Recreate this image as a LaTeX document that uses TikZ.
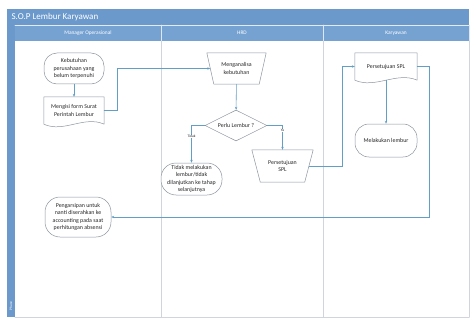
\documentclass[tikz,border=0pt]{standalone}
\usepackage{fontspec}
\setmainfont{Carlito}
\usetikzlibrary{arrows.meta,calc,positioning,shapes.geometric}
\definecolor{laneblue}{RGB}{108,153,204}
\definecolor{headblue}{RGB}{118,162,210}
\definecolor{laneline}{RGB}{208,212,220}
\definecolor{flowblue}{RGB}{98,158,198}
\definecolor{shapegray}{RGB}{140,148,158}
\tikzset{
  every node/.style={font=\fontsize{5.9}{7.2}\selectfont, text=black!85, align=center},
  box/.style={inner sep=1pt, minimum width=60pt, minimum height=27pt},
  terminal/.style={box, draw=shapegray, fill=white, line width=0.5pt,
    rounded corners=13pt},
  decision/.style={diamond, draw=shapegray, fill=white, line width=0.5pt,
    aspect=2, inner sep=0.5pt, minimum width=62pt, minimum height=31pt},
  outline/.style={draw=shapegray, line width=0.5pt, line join=round},
  flow/.style={draw=flowblue, line width=0.55pt, -{Stealth[length=3pt,width=2.4pt]}},
  tag/.style={font=\fontsize{3.6}{4}\selectfont, fill=white, inner sep=0.4pt},
  lane title/.style={font=\fontsize{5.4}{6}\selectfont, text=white}
}

\begin{document}
\begin{tikzpicture}[x=1pt, y=-1pt, line cap=round]
  \useasboundingbox (0,0) rectangle (474,321);

  % pool header and phase strip
  \fill[laneblue] (7,9) rectangle (469,25);
  \fill[headblue] (15,25) rectangle (469,41);
  \fill[laneblue] (7,25) rectangle (15,317);
  \draw[white!80!laneblue, line width=0.6pt] (15,25) -- (469,25);
  \node[anchor=west, font=\fontsize{9}{10}\selectfont, text=white] (title) at (8,17)
    {S.O.P Lembur Karyawan};
  \node[rotate=90, font=\fontsize{3.6}{4}\selectfont, text=white] (phase) at (11,306) {Phase};

  % lanes
  \foreach \xa/\xb/\name [count=\i] in {15/161/Manager Operasional,161/323/HRD,323/469/Karyawan} {
    \node[lane title] (lane\i) at ({(\xa+\xb)/2},33) {\name};
    \draw[white!75!headblue, line width=0.5pt] (\xb,25) -- (\xb,41);
    \draw[laneline, line width=1pt] (\xb,41) -- (\xb,317);
  }
  \draw[laneline, line width=1pt] (15,317) -- (469,317);

  % Manager Operasional
  \node[terminal, minimum height=31pt] (keb) at (74,68.5)
    {Kebutuhan\\perusahaan yang\\belum terpenuhi};
  \node[box] (form) at (74,110.5) {Mengisi form Surat\\Perintah Lembur};
  \draw[outline] (form.north west) -- (form.north east) -- (form.south east)
    .. controls ($(form.south east)!0.33!(form.south west)+(0,-9)$)
    and ($(form.south east)!0.67!(form.south west)+(0,9)$) .. (form.south west) -- cycle;
  \node[terminal, minimum width=66pt, minimum height=40pt, rounded corners=15pt] (arsip)
    at (78,217) {Pengarsipan untuk\\nanti diserahkan ke\\accounting pada saat\\perhitungan absensi};

  % HRD
  \node[box, minimum width=59pt, minimum height=31pt] (ana) at (236.5,68.5)
    {Menganalisa\\kebutuhan};
  \draw[outline] (ana.north west) -- (ana.north east) -- ([xshift=-7pt]ana.south east)
    -- ([xshift=7pt]ana.south west) -- cycle;
  \node[decision] (perlu) at (236,125.5) {Perlu Lembur ?};
  \node[terminal, minimum width=61pt, minimum height=32pt, rounded corners=15pt] (tidak)
    at (191.5,179) {Tidak melakukan\\lembur/tidak\\dilanjutkan ke tahap\\selanjutnya};
  \node[box, minimum width=61pt, minimum height=32pt] (setuju) at (282.5,166)
    {Persetujuan\\SPL};
  \draw[outline] (setuju.north west) -- (setuju.north east)
    -- ([xshift=-8.5pt]setuju.south east) -- ([xshift=8.5pt]setuju.south west) -- cycle;

  % Karyawan
  \node[box, minimum width=62pt] (spl) at (386,66.5) {Persetujuan SPL};
  \draw[outline] (spl.north west) -- (spl.north east) -- (spl.south east)
    .. controls ($(spl.south east)!0.33!(spl.south west)+(0,-9)$)
    and ($(spl.south east)!0.67!(spl.south west)+(0,9)$) .. (spl.south west) -- cycle;
  \node[terminal, minimum width=62pt, minimum height=33pt, rounded corners=14pt] (lembur)
    at (386,140.5) {Melakukan lembur};

  % connectors
  \draw[flow] (keb) -- (form);
  \draw[flow] (form.east) -- ++(13,0) |- ([xshift=3.5pt]ana.west);
  \draw[flow] (ana) -- (perlu);
  \draw[flow] (perlu.west) -| node[tag, pos=0.65] {Tidak} (tidak.north);
  \draw[flow] (perlu.east) -| node[tag, pos=0.6] {Ya} (setuju.north);
  \draw[flow] ([xshift=-4pt]setuju.east) -- ++(33,0) |- (spl.west);
  \draw[flow] (spl) -- (lembur);
  \draw[flow] (spl.east) -- ++(12,0) |- (arsip.east);
\end{tikzpicture}
\end{document}
